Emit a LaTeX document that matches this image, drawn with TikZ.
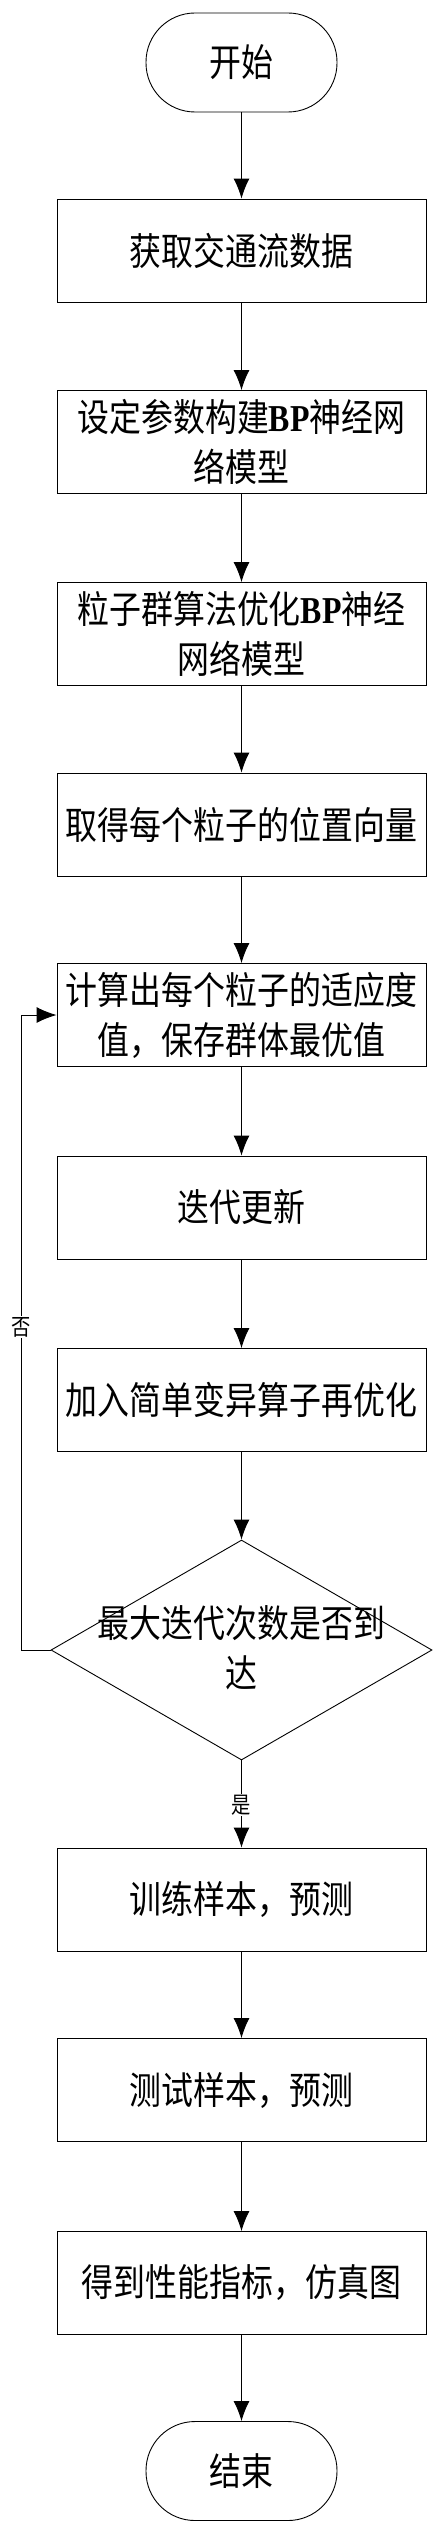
\documentclass[tikz,border=0pt]{standalone}
\usepackage{fontspec}
\setmainfont{Liberation Serif}
\newfontfamily\cjk[FakeStretch=0.84]{Noto Sans CJK SC}
\newfontfamily\lat[FakeStretch=0.84]{Liberation Serif}
\usetikzlibrary{arrows.meta,shapes.geometric}
\newcommand{\BPtxt}{{\lat\bfseries BP}}
\begin{document}
\begin{tikzpicture}[x=1pt,y=-1pt,
  every node/.style={font=\cjk\fontsize{38}{50}\selectfont},
  proc/.style={draw, line width=0.9pt, minimum width=369pt, minimum height=103pt, inner sep=0pt, align=center},
  term/.style={draw, line width=0.9pt, rounded corners=49pt, minimum width=191pt, minimum height=99pt, inner sep=0pt},
  dec/.style={draw, line width=0.9pt, diamond, minimum width=381pt, minimum height=220pt, inner sep=0pt},
  arr/.style={-{Latex[length=20pt,width=16pt]}, line width=0.9pt},
  lab/.style={font=\cjk\fontsize{23}{26}\selectfont, fill=white, inner sep=1pt}]
\useasboundingbox (0,0) rectangle (446,2537);
\node[term] (start) at (241.5,62.5) {开始};
\node[proc] (b1) at (241.5,250.5) {获取交通流数据};
\node[proc] (b2) at (241.5,442) {设定参数构建\BPtxt{}神经网\\络模型};
\node[proc] (b3) at (241.5,634) {粒子群算法优化\BPtxt{}神经\\网络模型};
\node[proc] (b4) at (241.5,824.5) {取得每个粒子的位置向量};
\node[proc] (b5) at (241.5,1015) {计算出每个粒子的适应度\\值，保存群体最优值};
\node[proc] (b6) at (241.5,1207.5) {迭代更新};
\node[proc] (b7) at (241.5,1400) {加入简单变异算子再优化};
\node[dec] (d) at (241.5,1650) {};
\node[align=center] (dt) at (241.5,1648) {最大迭代次数是否到\\达};
\node[proc] (b8) at (241.5,1899.5) {训练样本，预测};
\node[proc] (b9) at (241.5,2090) {测试样本，预测};
\node[proc] (b10) at (241.5,2283) {得到性能指标，仿真图};
\node[term] (end) at (241.5,2471) {结束};
\draw[arr] (start) -- (b1);
\draw[arr] (b1) -- (b2);
\draw[arr] (b2) -- (b3);
\draw[arr] (b3) -- (b4);
\draw[arr] (b4) -- (b5);
\draw[arr] (b5) -- (b6);
\draw[arr] (b6) -- (b7);
\draw[arr] (b7) -- (d.north);
\draw[arr] (d.south) -- (b8);
\draw[arr] (b8) -- (b9);
\draw[arr] (b9) -- (b10);
\draw[arr] (b10) -- (end);
\coordinate (lc) at (21.5,1650);
\draw[arr] (d.west) -- (lc) |- (b5.west);
\node[lab] (no) at (21.5,1327) {否};
\node[lab] (yes) at (241.5,1805) {是};
\end{tikzpicture}
\end{document}
